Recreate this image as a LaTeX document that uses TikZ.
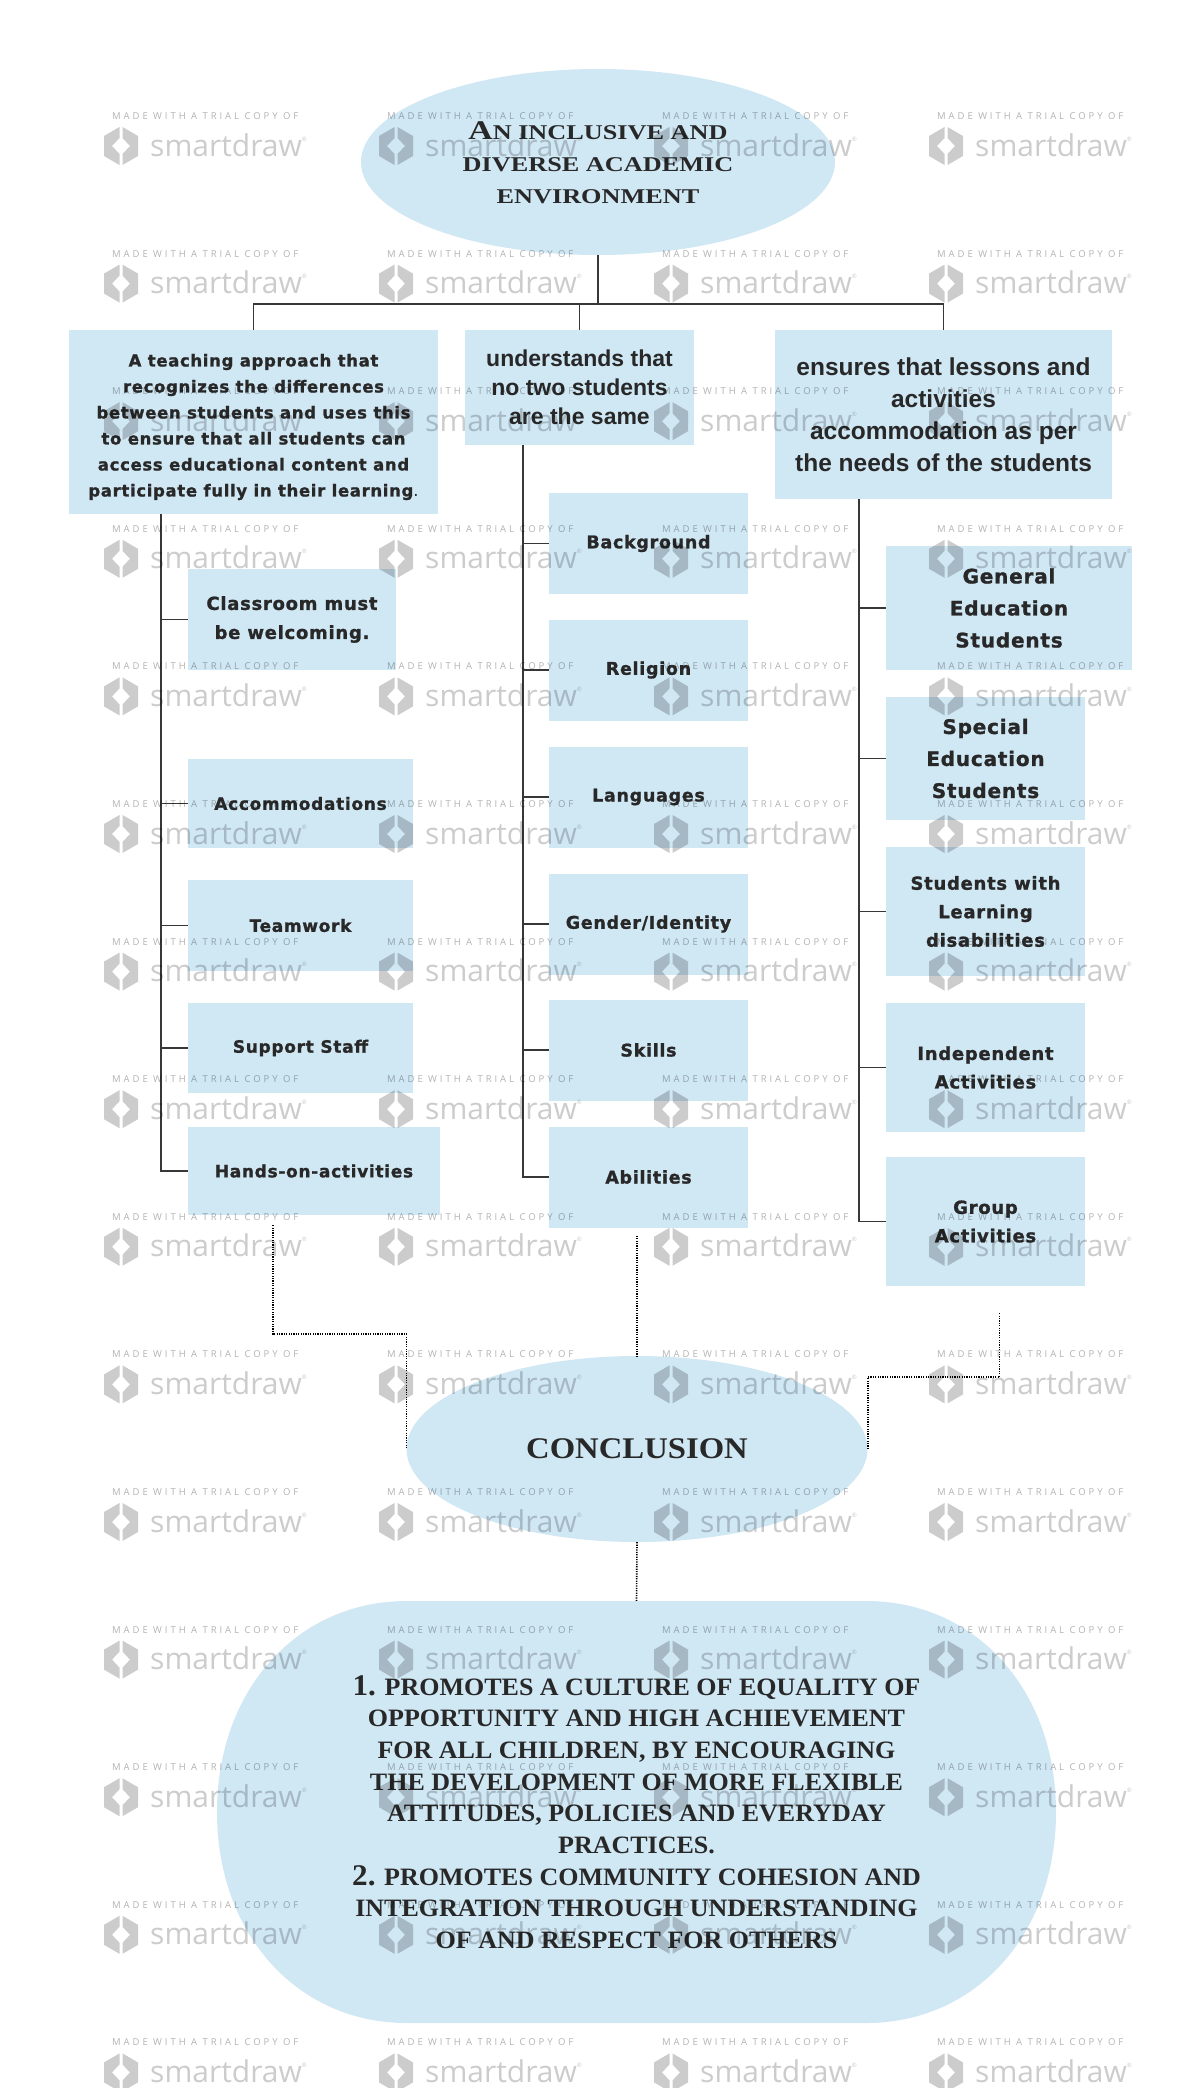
\documentclass[tikz,border=0pt]{standalone}
\usepackage{fontspec}
\usetikzlibrary{shapes.geometric,calc}
\definecolor{boxblue}{RGB}{208,231,244}
\definecolor{ink}{RGB}{40,40,40}
\definecolor{linec}{RGB}{55,55,55}
\newfontfamily\widefont[LetterSpace=4, BoldFeatures={FakeBold=1.2}]{DejaVu Sans}
\newfontfamily\arialfont{Liberation Sans}
\newfontfamily\titlefont[FakeStretch=1.25]{Liberation Serif}
\newfontfamily\conclfont[FakeStretch=1.09]{Liberation Serif}
\newfontfamily\copperbody[FakeStretch=1.04]{Liberation Serif}
\newfontfamily\wmbigfont{Open Sans}
\newfontfamily\wmsmallfont[LetterSpace=31]{Open Sans}
\begin{document}
\begin{tikzpicture}[x=1pt,y=-1pt,
  box/.style={rectangle, fill=boxblue, inner sep=0pt, align=center, text=ink},
  ell/.style={ellipse, fill=boxblue, inner sep=0pt, align=center, text=ink},
  wide/.style={font=\widefont\bfseries\fontsize{#1}{29}\selectfont},
  conn/.style={draw=linec, line width=1.4pt},
  dotline/.style={draw=black, line width=1.6pt, dash pattern=on 1.2pt off 1.2pt},
  wmsmall/.style={inner sep=0pt, text=black, text opacity=0.3, font=\wmsmallfont\fontsize{9.5}{10}\selectfont},
  wmbig/.style={inner sep=0pt, text=black, text opacity=0.2, font=\wmbigfont\fontsize{30}{32}\selectfont}
]
\fill[white] (0,0) rectangle (1200,2088);
\useasboundingbox (0,0) rectangle (1200,2088);

% ---------- top ----------
\node[ell, minimum width=474pt, minimum height=186pt] (top) at (598,162) {};
\node[inner sep=0pt, align=center, text=ink, font=\titlefont\bfseries\fontsize{21}{32}\selectfont] (toptext) at (598,163)
  {{\fontsize{27}{32}\selectfont A}N INCLUSIVE AND\\DIVERSE ACADEMIC\\ENVIRONMENT};

% ---------- level 1 ----------
\node[box, minimum width=369pt, minimum height=184pt] (b1) at (253.5,422) {};
\node[inner sep=0pt, align=center, text=ink,
  font=\widefont\bfseries\fontsize{16.5}{26}\selectfont] (b1text) at (253.5,427)
  {A teaching approach that\\recognizes the differences\\between students and uses this\\to ensure that all students can\\access educational content and\\participate fully in their learning{\mdseries .}};
\node[box, minimum width=229pt, minimum height=115pt,
  font=\arialfont\bfseries\fontsize{23}{29}\selectfont] (b2) at (579.5,387.5)
  {understands that\\no two students\\are the same};
\node[box, minimum width=337pt, minimum height=169pt,
  font=\arialfont\bfseries\fontsize{24.5}{32}\selectfont] (b3) at (943.5,414.5)
  {ensures that lessons and\\activities\\accommodation as per\\the needs of the students};

% ---------- left column ----------
\node[box, wide=18, minimum width=208pt, minimum height=101pt] (c1) at (292,619.5) {Classroom must\\be welcoming.};
\node[box, wide=17, minimum width=225pt, minimum height=89pt] (c2) at (300.5,803.5) {Accommodations};
\node[box, wide=17, minimum width=225pt, minimum height=91pt] (c3) at (300.5,925.5) {Teamwork};
\node[box, wide=17, minimum width=225pt, minimum height=90pt] (c4) at (300.5,1048) {Support Staff};
\node[box, wide=17, minimum width=252pt, minimum height=88pt] (c5) at (314,1171) {Hands-on-activities};

% ---------- middle column ----------
\node[box, wide=17.5, minimum width=199pt, minimum height=101pt] (m1) at (648.5,543.5) {Background};
\node[box, wide=17.5, minimum width=199pt, minimum height=101pt] (m2) at (648.5,670) {Religion};
\node[box, wide=17.5, minimum width=199pt, minimum height=101pt] (m3) at (648.5,797) {Languages};
\node[box, wide=17.5, minimum width=199pt, minimum height=101pt] (m4) at (648.5,924) {Gender/Identity};
\node[box, wide=17.5, minimum width=199pt, minimum height=101pt] (m5) at (648.5,1050) {Skills};
\node[box, wide=17.5, minimum width=199pt, minimum height=101pt] (m6) at (648.5,1177) {Abilities};

% ---------- right column ----------
\node[box, font=\widefont\bfseries\fontsize{20}{32}\selectfont, minimum width=246pt, minimum height=124pt] (r1) at (1009,608) {General\\Education\\Students};
\node[box, font=\widefont\bfseries\fontsize{20}{32}\selectfont, minimum width=199pt, minimum height=123pt] (r2) at (985.5,758.5) {Special\\Education\\Students};
\node[box, font=\widefont\bfseries\fontsize{18}{28.5}\selectfont, minimum width=199pt, minimum height=129pt] (r3) at (985.5,911.5) {Students with\\Learning\\disabilities};
\node[box, font=\widefont\bfseries\fontsize{18}{28.5}\selectfont, minimum width=199pt, minimum height=129pt] (r4) at (985.5,1067.5) {Independent\\Activities};
\node[box, font=\widefont\bfseries\fontsize{18}{28.5}\selectfont, minimum width=199pt, minimum height=129pt] (r5) at (985.5,1221.5) {Group\\Activities};

% ---------- conclusion ----------
\node[ell, minimum width=461pt, minimum height=186pt,
  font=\conclfont\bfseries\fontsize{30}{32}\selectfont] (conc) at (637,1449) {CONCLUSION};

% ---------- result shape ----------
\fill[boxblue] (407,1601) -- (866,1601)
  .. controls (976,1601) and (1056,1690) .. (1056,1812)
  .. controls (1056,1934) and (976,2023) .. (866,2023)
  -- (407,2023)
  .. controls (297,2023) and (217,1934) .. (217,1812)
  .. controls (217,1690) and (297,1601) .. (407,1601) -- cycle;
\node[inner sep=0pt, minimum width=839pt, minimum height=422pt, align=center, text=ink,
  font=\copperbody\bfseries\fontsize{25}{31.7}\selectfont] (res) at (636.5,1812)
  {{\fontsize{30}{31.7}\selectfont 1.} PROMOTES A CULTURE OF EQUALITY OF\\
   OPPORTUNITY AND HIGH ACHIEVEMENT\\
   FOR ALL CHILDREN, BY ENCOURAGING\\
   THE DEVELOPMENT OF MORE FLEXIBLE\\
   ATTITUDES, POLICIES AND EVERYDAY\\
   PRACTICES.\\
   {\fontsize{30}{31.7}\selectfont 2.} PROMOTES COMMUNITY COHESION AND\\
   INTEGRATION THROUGH UNDERSTANDING\\
   OF AND RESPECT FOR OTHERS};

% ---------- connectors ----------
\coordinate (busy) at ($(b1.north)+(0,-26)$);
\draw[conn] (b1.north) -- (busy) -| (b3.north);
\draw[conn] (top.south) -- (top.south |- busy);
\draw[conn] (b2.north) -- (b2.north |- busy);

\draw[conn] ($(b1.south west)+(92,0)$) |- (c5.west);
\foreach \n in {c1,c2,c3,c4} \draw[conn] (\n.west) -- ++(-27,0);
\draw[conn] ($(b2.south west)+(58,0)$) |- (m6.west);
\foreach \n in {m1,m2,m3,m4,m5} \draw[conn] (\n.west) -- ++(-26,0);
\draw[conn] ($(b3.south west)+(84,0)$) |- (r5.west);
\foreach \n in {r1,r2,r3,r4} \draw[conn] (\n.west) -- ++(-27,0);

\draw[dotline] ($(c5.south west)+(85,10)$) -- ++(0,109) -| (conc.west);
\draw[dotline] ($(m6.south -| conc.north)+(0,8)$) -- (conc.north);
\draw[dotline] ($(r5.south)+(14,27)$) -- ++(0,64) -| (conc.east);
\draw[dotline] (conc.south) -- (res.north);

% ---------- watermark ----------
\foreach \i in {0,...,3} {
  \foreach \j in {0,...,14} {
    \pgfmathsetmacro\X{112+275*\i}
    \pgfmathsetmacro\Y{116+137.6*\j}
    \node[wmsmall, anchor=west] (wma-\i-\j) at (\X,\Y) {MADE WITH A TRIAL COPY OF};
    \node[wmbig, anchor=base west] (wmb-\i-\j) at (\X+38,\Y+40) {smartdraw{\fontsize{6}{6}\selectfont\raisebox{15pt}{®}}};
    \begin{scope}[shift={(\X+9,\Y+30)}]
      \fill[black, fill opacity=0.2] (-1.5,-19) -- (-17,-10) -- (-17,10) -- (-1.5,19) -- (-1.5,8) -- (-9,0) -- (-1.5,-8) -- cycle;
      \fill[black, fill opacity=0.2] (1.5,-19) -- (17,-10) -- (17,10) -- (1.5,19) -- (1.5,8) -- (9,0) -- (1.5,-8) -- cycle;
    \end{scope}
  }
}
\end{tikzpicture}
\end{document}
